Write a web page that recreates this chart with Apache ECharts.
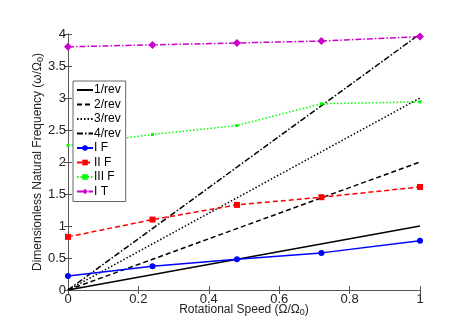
<!DOCTYPE html>
<html>
<head>
<meta charset="utf-8">
<script src="https://cdn.jsdelivr.net/npm/echarts@6/dist/echarts.min.js"></script>
<style>
  html, body { margin: 0; padding: 0; background: #fff; }
  #chart { width: 474px; height: 335px; }
</style>
</head>
<body>
<div id="chart"></div>
<script>
// rotational speed samples
var speeds = [0, 0.24, 0.48, 0.72, 1.0];
var firstFlap = [0.22, 0.37, 0.48, 0.58, 0.77];
var secondFlap = [0.83, 1.10, 1.33, 1.45, 1.61];
var thirdFlap = [2.26, 2.43, 2.57, 2.91, 2.94];
var firstTorsion = [3.80, 3.83, 3.86, 3.89, 3.96];
// per-rev lines (value at speed 0 and speed 1)
var revEnds = [0, 1];
var revOrders = [1, 2, 3, 4];

function pairs(xs, ys) {
    var out = [];
    for (var i = 0; i < xs.length; i++) out.push([xs[i], ys[i]]);
    return out;
}

var font = 'Liberation Sans, Arial, sans-serif';
var revStyles = ['solid', [5, 3], [1.5, 2], [6, 2, 1.5, 2]];

var series = [];
var legendData = [];
revOrders.forEach(function (n, i) {
    series.push({
        name: n + '/rev',
        type: 'line',
        data: pairs(revEnds, revEnds.map(function (v) { return v * n; })),
        showSymbol: false,
        symbol: 'none',
        lineStyle: { color: '#000', width: 1.5, type: revStyles[i] },
        itemStyle: { color: '#000' },
        z: 2
    });
    // line only in the legend
    legendData.push({ name: n + '/rev', itemStyle: { opacity: 0 } });
});

function mode(name, vals, color, symbol, size, type) {
    legendData.push({ name: name });
    return {
        name: name,
        type: 'line',
        data: pairs(speeds, vals),
        symbol: symbol,
        symbolSize: size,
        lineStyle: { color: color, width: 1.5, type: type },
        itemStyle: { color: color },
        z: 3
    };
}
series.push(mode('I F', firstFlap, '#0000ff', 'circle', 6, 'solid'));
series.push(mode('II F', secondFlap, '#ff0000', 'rect', 6, [5, 3]));
series.push(mode('III F', thirdFlap, '#00ff00', 'rect', 3, [1.5, 2]));
series.push(mode('I T', firstTorsion, '#cc00cc', 'diamond', 8, [6, 2, 1.5, 2]));

var axisLine = { show: true, lineStyle: { color: '#555', width: 1 } };
var axisTick = { show: true, inside: true, length: 4, lineStyle: { color: '#555' } };
var subStyle = { fontFamily: font, fontSize: 9, color: '#222', verticalAlign: 'bottom', padding: [6, 0, 0, 0] };

var myChart = echarts.init(document.getElementById('chart'));
var option = {
    animation: false,
    backgroundColor: '#fff',
    grid: { left: 68, right: 54, top: 34, bottom: 45 },
    legend: {
        orient: 'vertical',
        left: 73,
        top: 81,
        itemWidth: 16,
        itemHeight: 7,
        itemGap: 2.5,
        padding: [3, 5, 4, 3],
        borderColor: '#666',
        borderWidth: 1,
        backgroundColor: '#fff',
        textStyle: { fontFamily: font, fontSize: 12, color: '#000', padding: [0, 0, 0, -4] },
        data: legendData
    },
    xAxis: [{
        type: 'value',
        min: 0, max: 1, interval: 0.2,
        name: 'Rotational Speed (Ω/Ω{sub|0})',
        nameLocation: 'middle',
        nameGap: 12,
        nameMoveOverlap: false,
        nameTextStyle: { fontFamily: font, fontSize: 12, color: '#222', rich: { sub: subStyle } },
        axisLine: axisLine,
        axisTick: axisTick,
        splitLine: { show: false },
        axisLabel: { fontFamily: font, fontSize: 13, color: '#222', margin: 3 }
    }, {
        type: 'value', position: 'top', min: 0, max: 1, interval: 0.2,
        axisLine: axisLine, axisTick: axisTick, axisLabel: { show: false }, splitLine: { show: false }
    }],
    yAxis: [{
        type: 'value',
        min: 0, max: 4, interval: 0.5,
        name: 'Dimensionless Natural Frequency (ω/Ω{sub|0})',
        nameLocation: 'middle',
        nameGap: 23,
        nameMoveOverlap: false,
        nameTextStyle: { fontFamily: font, fontSize: 12, color: '#222', rich: { sub: subStyle } },
        axisLine: axisLine,
        axisTick: axisTick,
        splitLine: { show: false },
        axisLabel: { fontFamily: font, fontSize: 13, color: '#222', margin: 2 }
    }, {
        type: 'value', position: 'right', min: 0, max: 4, interval: 0.5,
        axisLine: axisLine, axisTick: axisTick, axisLabel: { show: false }, splitLine: { show: false }
    }],
    series: series
};
myChart.setOption(option);
</script>
</body>
</html>
